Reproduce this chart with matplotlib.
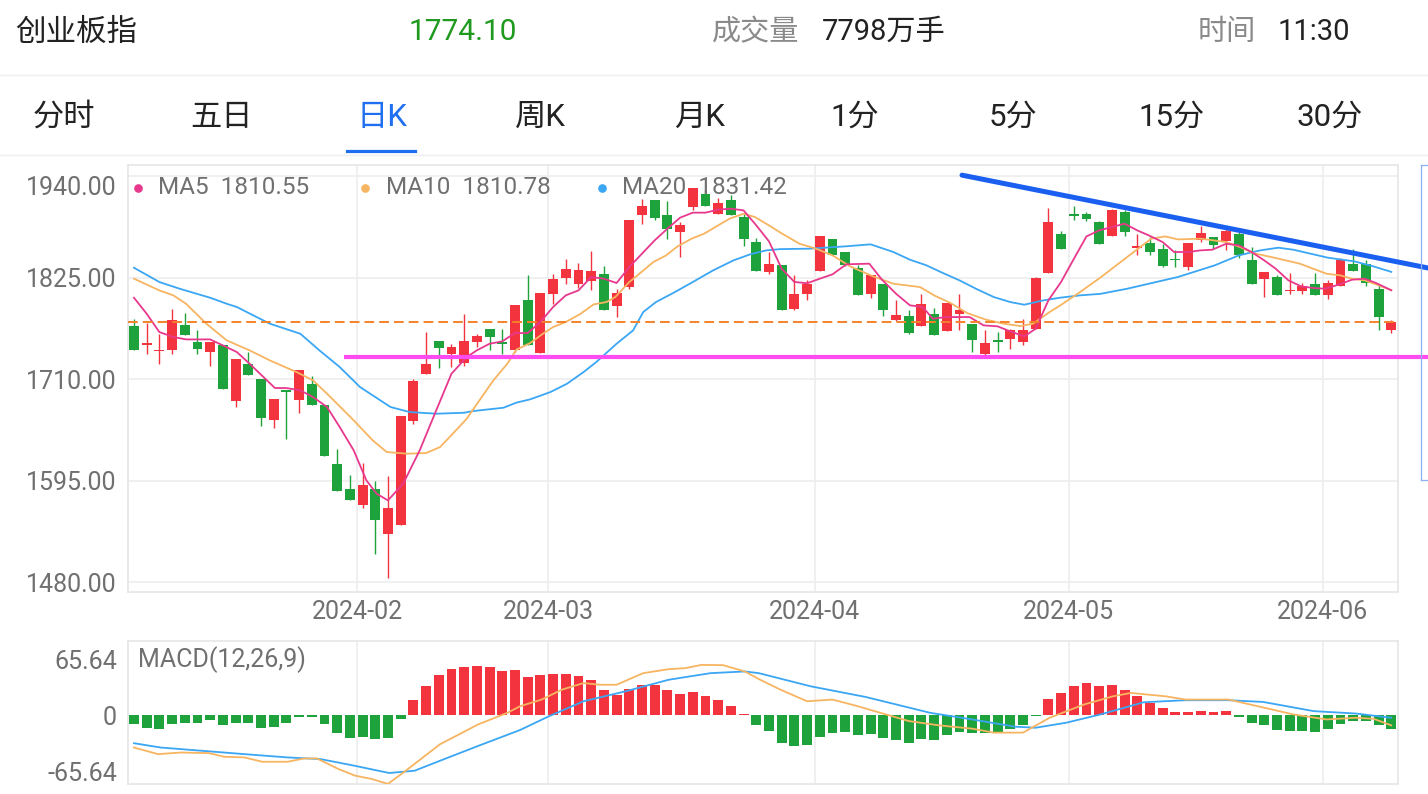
import numpy as np
import pandas as pd
import matplotlib
matplotlib.use('Agg')
import matplotlib.pyplot as plt
from matplotlib.lines import Line2D

plt.rcParams['font.family'] = ['Roboto', 'Noto Sans CJK SC', 'DejaVu Sans']

# ---------------- data ----------------
holidays = ['2024-02-09', '2024-02-12', '2024-02-13', '2024-02-14', '2024-02-15',
            '2024-02-16', '2024-04-04', '2024-04-05', '2024-05-01', '2024-05-02',
            '2024-05-03', '2024-06-10']
dates = pd.bdate_range('2024-01-08', '2024-06-11', freq='C', holidays=holidays)

opens = [1769.7, 1749.0, 1741.5, 1743.0, 1771.6, 1751.9, 1740.6, 1748.1, 1685.1, 1726.6,
         1710.4, 1663.2, 1697.0, 1685.8, 1704.0, 1680.2, 1613.3, 1585.7, 1567.2, 1585.7,
         1534.0, 1544.6, 1662.4, 1716.0, 1752.7, 1738.7, 1728.2, 1752.0, 1767.0, 1751.5,
         1742.5, 1799.9, 1739.4, 1806.7, 1824.8, 1817.2, 1820.6, 1829.3, 1792.3, 1814.2,
         1895.4, 1912.4, 1896.2, 1876.5, 1904.9, 1920.0, 1897.3, 1912.4, 1893.5, 1865.2,
         1830.8, 1839.5, 1788.9, 1806.7, 1832.4, 1869.0, 1853.5, 1835.8, 1806.7, 1818.0,
         1776.5, 1781.0, 1769.7, 1784.0, 1764.0, 1784.0, 1772.7, 1738.7, 1753.4, 1755.7,
         1751.9, 1767.0, 1830.5, 1874.6, 1896.6, 1897.3, 1887.9, 1871.6, 1899.2, 1858.8,
         1864.1, 1857.7, 1846.3, 1836.9, 1867.1, 1870.9, 1866.0, 1874.6, 1844.4, 1822.9,
         1825.6, 1809.7, 1809.3, 1818.0, 1805.5, 1815.0, 1839.9, 1839.9, 1812.3, 1765.9]
highs = [1778.3, 1774.0, 1761.3, 1789.7, 1784.8, 1765.1, 1751.9, 1748.1, 1733.0, 1740.6,
         1710.4, 1687.7, 1698.0, 1720.6, 1713.0, 1680.2, 1630.3, 1600.8, 1615.2, 1594.4,
         1599.7, 1667.7, 1710.4, 1763.0, 1752.7, 1749.3, 1783.3, 1760.6, 1767.0, 1767.0,
         1794.2, 1828.2, 1807.8, 1829.3, 1845.6, 1841.8, 1855.0, 1837.6, 1812.3, 1890.5,
         1913.6, 1912.4, 1911.7, 1887.9, 1926.4, 1924.5, 1915.4, 1918.8, 1897.3, 1869.7,
         1853.9, 1839.5, 1827.4, 1822.5, 1871.6, 1869.0, 1853.5, 1838.8, 1827.4, 1818.0,
         1799.1, 1787.8, 1806.7, 1790.4, 1796.5, 1806.7, 1772.7, 1765.1, 1763.2, 1767.0,
         1777.6, 1825.6, 1903.7, 1877.7, 1905.6, 1899.2, 1888.6, 1903.0, 1901.1, 1874.6,
         1870.9, 1863.3, 1855.8, 1864.5, 1883.0, 1870.9, 1882.2, 1876.5, 1859.5, 1831.2,
         1827.4, 1830.1, 1818.8, 1830.1, 1821.8, 1847.5, 1857.7, 1844.4, 1816.1, 1776.5]
lows = [1743.2, 1738.7, 1726.6, 1738.7, 1760.2, 1738.7, 1724.7, 1698.3, 1678.3, 1714.1,
        1656.7, 1654.8, 1642.4, 1671.8, 1680.9, 1622.7, 1582.7, 1572.5, 1563.5, 1512.0,
        1484.0, 1544.6, 1658.6, 1716.0, 1722.8, 1723.6, 1724.4, 1746.2, 1742.5, 1738.7,
        1740.6, 1748.1, 1739.4, 1795.3, 1817.2, 1813.0, 1810.4, 1788.5, 1780.2, 1812.3,
        1885.2, 1890.5, 1869.0, 1848.2, 1901.1, 1906.0, 1897.3, 1896.2, 1860.3, 1832.0,
        1829.3, 1788.5, 1787.8, 1799.9, 1832.4, 1850.9, 1838.0, 1805.5, 1801.8, 1781.0,
        1775.4, 1760.6, 1769.7, 1759.5, 1764.0, 1765.1, 1740.6, 1736.8, 1740.6, 1744.3,
        1748.1, 1767.0, 1830.5, 1857.7, 1889.8, 1888.6, 1863.3, 1871.6, 1871.6, 1850.9,
        1850.9, 1836.9, 1836.9, 1833.1, 1865.2, 1857.7, 1855.8, 1847.5, 1817.2, 1802.9,
        1804.8, 1805.9, 1806.7, 1804.8, 1801.0, 1815.0, 1832.4, 1815.0, 1765.1, 1762.1]
closes = [1743.2, 1750.5, 1743.0, 1777.2, 1760.2, 1744.3, 1751.9, 1698.3, 1733.0, 1714.1,
          1665.8, 1687.7, 1696.0, 1720.6, 1680.9, 1622.7, 1582.7, 1572.5, 1589.9, 1549.8,
          1563.5, 1667.7, 1707.3, 1727.4, 1745.5, 1746.3, 1752.7, 1758.7, 1757.6, 1750.8,
          1794.2, 1748.1, 1807.8, 1823.7, 1834.2, 1833.1, 1832.4, 1788.5, 1807.4, 1890.5,
          1906.0, 1892.8, 1880.3, 1884.1, 1926.4, 1906.0, 1909.8, 1896.2, 1868.2, 1832.0,
          1840.7, 1788.5, 1806.7, 1818.0, 1871.6, 1850.9, 1839.5, 1805.5, 1827.4, 1788.5,
          1782.1, 1762.1, 1795.3, 1759.5, 1796.5, 1787.8, 1754.5, 1750.8, 1752.8, 1765.1,
          1765.1, 1824.4, 1887.9, 1857.7, 1894.3, 1891.7, 1863.3, 1901.1, 1876.5, 1860.3,
          1853.9, 1837.6, 1844.8, 1864.5, 1875.4, 1861.4, 1877.3, 1850.9, 1817.2, 1831.2,
          1804.8, 1811.2, 1815.0, 1804.8, 1818.8, 1844.4, 1832.4, 1818.8, 1780.2, 1774.1]

# moving averages as drawn (candle index, value)
ma5_x = [0, 1, 2, 3.1, 4.1, 6, 7, 8.1, 9.1, 10.2, 11.1, 12, 13.1, 14.1, 15.2, 16.2, 17.3,
         18.3, 19.1, 20, 21.2, 22.5, 23.8, 25, 26.2, 27, 28, 29, 30, 31, 32, 33, 34, 35,
         36, 37, 38, 39, 40, 41, 42, 43, 44, 45, 46, 47, 48, 49, 50, 51, 52, 53, 54, 55,
         56.1, 57.9, 58.9, 60, 61.1, 62.1, 62.9, 63.9, 65, 65.8, 66.9, 68, 69, 70.1, 71,
         72, 73, 74, 75, 76, 77, 78, 79, 79.9, 81, 81.9, 83, 84, 84.9, 86, 87, 88, 89,
         89.9, 90.9, 91.9, 92.9, 93.8, 94.9, 95.9, 96.9, 97.8, 99]
ma5_v = [1802.1, 1784.0, 1763.2, 1757.6, 1754.9, 1754.9, 1748.1, 1740.6, 1727.4, 1712.2,
         1699.8, 1699.8, 1697.1, 1689.6, 1678.3, 1655.6, 1629.2, 1595.2, 1580.1, 1572.5,
         1591.5, 1629.2, 1674.5, 1716.0, 1734.9, 1742.5, 1750.0, 1752.7, 1762.1, 1762.1,
         1774.6, 1791.6, 1804.8, 1810.4, 1825.6, 1823.7, 1818.8, 1836.9, 1852.0, 1867.1,
         1880.3, 1892.8, 1898.5, 1898.5, 1901.9, 1903.0, 1901.1, 1884.1, 1866.0, 1835.0,
         1820.0, 1818.5, 1823.7, 1828.6, 1840.0, 1840.7, 1822.5, 1806.7, 1793.5, 1791.6,
         1778.3, 1780.2, 1780.2, 1780.2, 1770.8, 1769.7, 1764.0, 1758.3, 1767.0, 1799.1,
         1820.0, 1846.0, 1871.6, 1878.4, 1882.2, 1886.0, 1878.4, 1872.8, 1865.2, 1853.9,
         1853.9, 1855.8, 1856.5, 1863.3, 1861.4, 1853.9, 1844.4, 1835.0, 1821.8, 1815.0,
         1813.1, 1812.3, 1817.2, 1822.5, 1823.7, 1818.8, 1810.55]
ma10_x = [0, 2, 3.1, 4.1, 5.7, 7.3, 9.1, 10.7, 12.8, 14.1, 15.2, 17.3, 18.8, 19.9, 21.5,
          23, 24.1, 25.1, 26.2, 27.2, 28.3, 29.4, 30.1, 31.2, 32.2, 33, 34, 35.1, 36.2,
          37.2, 37.9, 39, 39.8, 40.9, 41.9, 42.8, 43.9, 44.9, 46, 46.9, 48, 48.9, 50,
          51, 52.4, 53.7, 55, 56.4, 58.2, 59.8, 61.9, 63, 64.3, 65.6, 67.1, 68.5, 69.8,
          70.8, 72.1, 73, 74.5, 76.1, 78.2, 80.1, 81.2, 82.2, 84, 86, 87.1, 88.1, 89.9,
          91.8, 93.9, 95, 95.9, 96.9, 97.8, 99]
ma10_v = [1823.7, 1810.4, 1804.8, 1795.3, 1772.7, 1753.8, 1742.5, 1731.1, 1717.9, 1708.5,
          1693.4, 1663.2, 1640.5, 1627.3, 1625.4, 1626.1, 1632.9, 1648.0, 1665.0, 1685.8,
          1708.5, 1727.4, 1743.2, 1750.8, 1761.3, 1768.9, 1774.6, 1783.3, 1794.6, 1797.2,
          1802.9, 1819.9, 1829.3, 1842.6, 1850.1, 1860.3, 1869.0, 1874.7, 1884.1, 1891.7,
          1897.3, 1893.5, 1884.1, 1875.0, 1863.3, 1857.7, 1850.1, 1837.6, 1826.3, 1818.0,
          1814.2, 1804.8, 1796.1, 1784.8, 1777.2, 1772.7, 1770.0, 1772.7, 1785.9, 1794.0,
          1808.6, 1825.0, 1848.2, 1869.0, 1871.6, 1868.2, 1869.0, 1865.2, 1859.5, 1852.8,
          1847.1, 1840.7, 1829.3, 1827.4, 1823.7, 1821.8, 1817.2, 1810.78]
ma20_x = [0, 2, 3.6, 6, 7.3, 8.1, 9.4, 10.7, 13.1, 14.6, 16.2, 17.8, 20.2, 21.7, 23.8, 26,
          26.7, 29.1, 30.1, 31.2, 32.8, 34.1, 35.4, 36.4, 38, 39.3, 40.1, 41.1, 42.5, 44,
          45.6, 47.2, 48.5, 49.8, 50.9, 53.2, 56, 58, 59.8, 61.1, 62.4, 63.7, 65, 66.3,
          67.7, 69, 70.1, 71.6, 72.9, 74.5, 76.1, 78.2, 82.2, 85.1, 87, 88.7, 90.1, 91.3,
          94, 96.1, 97.6, 99]
ma20_v = [1836.1, 1819.9, 1812.3, 1802.1, 1795.3, 1791.6, 1782.1, 1772.7, 1761.3, 1742.5,
          1723.6, 1700.9, 1678.3, 1672.6, 1670.7, 1671.8, 1673.7, 1677.5, 1683.2, 1687.0,
          1695.3, 1704.7, 1717.9, 1729.2, 1750.0, 1765.1, 1785.9, 1797.2, 1807.8, 1819.9,
          1833.1, 1844.4, 1851.2, 1855.8, 1857.2, 1857.7, 1860.3, 1862.6, 1853.9, 1845.2,
          1838.8, 1830.1, 1821.8, 1812.3, 1802.9, 1797.2, 1794.2, 1799.1, 1802.1, 1804.8,
          1806.5, 1812.3, 1825.6, 1838.8, 1850.1, 1855.8, 1858.8, 1856.5, 1847.5, 1843.3,
          1837.6, 1831.42]

# MACD(12,26,9)
macd_hist = [-10.6, -14.5, -16.4, -10.6, -8.6, -8.6, -5.5, -11.7, -8.6, -8.6,
             -14.5, -13.3, -9.4, -1.6, -1.6, -10.6, -20.3, -27.0, -25.0, -28.1,
             -26.2, -3.9, 18.0, 35.2, 48.1, 54.7, 57.8, 59.0, 57.0, 52.8,
             53.9, 45.3, 47.3, 49.2, 49.2, 46.1, 42.2, 30.5, 24.6, 31.3,
             36.3, 36.3, 30.5, 25.8, 27.4, 22.7, 18.0, 11.7, 2.3, -11.7,
             -18.4, -32.0, -36.0, -35.2, -25.4, -20.3, -19.5, -23.4, -22.3, -27.0,
             -28.9, -32.8, -28.1, -28.9, -23.4, -19.1, -21.1, -21.1, -19.5, -15.6,
             -11.3, -0.8, 19.9, 26.6, 34.4, 38.3, 34.4, 35.6, 30.5, 22.7,
             14.8, 9.0, 3.9, 3.9, 5.1, 3.9, 4.7, -1.6, -9.4, -11.7,
             -17.2, -18.4, -18.4, -19.1, -16.4, -9.8, -6.6, -6.6, -11.7, -15.6]
dif_x = [0, 1.9, 3.7, 5.9, 7.1, 8.7, 10.1, 12.1, 13.4, 14.4, 16.1, 17.4, 18.7, 20, 21.4,
         24.1, 27.1, 29.4, 30.4, 32.1, 33.7, 35.4, 36.7, 38, 40.1, 42.1, 43.4, 44.7, 46.4,
         48.1, 49.2, 50.9, 53, 55, 57, 61, 63.4, 66, 67.7, 70, 72.1, 74.8, 77.1, 78.5,
         81.2, 82.8, 86.2, 87.9, 91.3, 93.9, 96.2, 97.6, 99]
dif_v = [-37.9, -45.7, -43.8, -44.5, -48.8, -49.6, -54.7, -54.7, -50.8, -50.8, -63.3,
         -71.1, -75.0, -80.9, -65.3, -34.0, -10.6, 3.1, 10.9, 18.8, 30.5, 38.3, 36.3,
         36.3, 50.0, 54.7, 55.9, 59.8, 59.4, 52.0, 43.0, 30.5, 16.8, 18.8, 10.9, -6.6,
         -11.7, -15.6, -20.3, -20.3, -2.7, 12.9, 22.7, 26.6, 22.7, 18.8, 18.8, 12.9, 1.2,
         -4.7, -2.7, -3.9, -11.7]
dea_x = [0, 2.1, 5.4, 8.7, 12.1, 14.7, 17.1, 20.1, 22.1, 24.1, 27.1, 30.4, 32.7, 35.4,
         38.7, 42.1, 45.4, 48.1, 49.2, 53.3, 57.6, 62.7, 66, 69.4, 71, 73.4, 76.1, 79.5,
         82.8, 86.2, 88.9, 92.9, 96.2, 99]
dea_v = [-32.8, -37.9, -41.8, -45.7, -49.6, -51.6, -58.6, -68.0, -65.3, -53.5, -36.0,
         -17.2, -0.8, 16.8, 28.5, 42.2, 50.0, 52.0, 50.0, 34.4, 21.9, 3.1, -4.7, -13.3,
         -14.5, -8.6, 1.2, 15.6, 18.0, 18.0, 16.0, 5.1, 2.3, -2.7]

# hand-drawn marks on the chart (candle index / price)
support_level = 1735.0
support_start = 16.5
trend_x = [65.2, 101.9]
trend_y = [1941.0, 1835.8]

price_ticks = [1480, 1595, 1710, 1825, 1940]
macd_ticks = [65.64, 0, -65.64]

# ---------------- styles ----------------
RED = '#f3343e'
GREEN = '#1ea23b'
PINK = '#e8388d'
ORANGE = '#f7b461'
BLUE = '#3aa6f4'
GRID = '#eeeeee'
LABEL = '#707070'

W, H = 1428, 794


def fx(px):
    return px / W


def fy(py):
    return 1 - py / H


def rect(l, t, r, b):
    return [l / W, 1 - b / H, (r - l) / W, (b - t) / H]


fig = plt.figure(figsize=(W / 100, H / 100), dpi=100)

# ---------------- header ----------------
fig.text(fx(15), fy(32), '创业板指', fontsize=22, color='#222222', va='center')
fig.text(fx(409), fy(32), '1774.10', fontsize=21.5, color='#1f9a1f', va='center')
fig.text(fx(712), fy(32), '成交量', fontsize=21, color='#8a8a8a', va='center')
fig.text(fx(822), fy(32), '7798万手', fontsize=21, color='#222222', va='center')
fig.text(fx(1198), fy(32), '时间', fontsize=21, color='#8a8a8a', va='center')
fig.text(fx(1278), fy(32), '11:30', fontsize=21, color='#222222', va='center')
fig.add_artist(Line2D([0, 1], [fy(75), fy(75)], color='#eeeeee', lw=1))

tabs = ['分时', '五日', '日K', '周K', '月K', '1分', '5分', '15分', '30分']
tab_cx = [64, 222, 382, 540, 700, 855, 1013, 1172, 1330]
for t, cx in zip(tabs, tab_cx):
    col = '#1f6ff0' if t == '日K' else '#222222'
    fig.text(fx(cx), fy(117), t, fontsize=22.5, color=col, ha='center', va='center')
fig.add_artist(Line2D([fx(347), fx(415)], [fy(151), fy(151)], color='#1f6ff0', lw=2.3))
fig.add_artist(Line2D([0, 1], [fy(154.5), fy(154.5)], color='#eeeeee', lw=1))

# ---------------- candles ----------------
x = np.arange(len(closes))
o = np.array(opens)
hi = np.array(highs)
lo = np.array(lows)
c = np.array(closes)
colors = np.where(c >= o, RED, GREEN)

month_idx = [i for i in range(1, len(dates)) if dates[i].month != dates[i - 1].month]
month_pos = [i - 0.4 for i in month_idx]
month_lab = [dates[i].strftime('%Y-%m') for i in month_idx]

ax = fig.add_axes(rect(128, 165, 1398, 592))
ax.set_xlim(-0.47, 99.53)
ax.set_ylim(1468.7, 1952.5)

body = np.abs(c - o)
body_h = np.maximum(body, 1.8)
body_b = np.minimum(o, c) - (body_h - body) / 2
ax.vlines(x, lo, hi, colors=colors, lw=1.0, zorder=2)
ax.bar(x, body_h, bottom=body_b, width=0.78, color=colors, lw=0, zorder=3)

ax.plot(ma20_x, ma20_v, color=BLUE, lw=1.3, zorder=4)
ax.plot(ma10_x, ma10_v, color=ORANGE, lw=1.3, zorder=4)
ax.plot(ma5_x, ma5_v, color=PINK, lw=1.3, zorder=4)

ax.axhline(closes[-1], color='#f5822a', lw=1.4, ls=(0, (5, 2.6)), zorder=5)
ax.plot([support_start, trend_x[1]], [support_level, support_level], color='#ff4cf2',
        lw=3.0, solid_capstyle='butt', clip_on=False, zorder=6)
ax.plot(trend_x, trend_y, color='#1b5ff0', lw=3.6, solid_capstyle='round',
        clip_on=False, zorder=6)

ax.set_yticks(price_ticks)
ax.set_yticklabels(['%.2f' % v for v in price_ticks])
ax.set_xticks(month_pos)
ax.set_xticklabels(month_lab)
ax.tick_params(length=0, labelsize=18, labelcolor=LABEL)
ax.tick_params(axis='y', pad=8)
ax.tick_params(axis='x', pad=6)
ax.get_yticklabels()[-1].set_va('top')
ax.grid(True, color=GRID, lw=1.2)
ax.set_axisbelow(True)
for s in ax.spines.values():
    s.set_color('#e6e6e6')
    s.set_linewidth(1.2)

# legend row
leg = [('MA5', ma5_v[-1], PINK, 137.5, 157.5),
       ('MA10', ma10_v[-1], ORANGE, 365, 386),
       ('MA20', ma20_v[-1], BLUE, 601.5, 622)]
for name, val, col, dot_x, txt_x in leg:
    fig.add_artist(Line2D([fx(dot_x)], [fy(188)], marker='o', markersize=5.2,
                          color=col, lw=0))
    fig.text(fx(txt_x), fy(188), '%s  %.2f' % (name, val), fontsize=17.5,
             color=LABEL, va='center')

# ---------------- MACD ----------------
mx = fig.add_axes(rect(128, 641, 1398, 784))
mx.set_xlim(-0.47, 99.53)
mx.set_ylim(-81, 88)
h = np.array(macd_hist)
mx.bar(x, h, width=0.78, color=np.where(h >= 0, RED, GREEN), lw=0, zorder=2)
mx.plot(dea_x, dea_v, color=BLUE, lw=1.3, zorder=3)
mx.plot(dif_x, dif_v, color=ORANGE, lw=1.3, zorder=3)
mx.set_xticks(month_pos)
mx.set_xticklabels([])
mx.set_yticks(macd_ticks)
mx.set_yticklabels(['65.64', '0', '-65.64'])
mx.tick_params(length=0, labelsize=18, labelcolor=LABEL, pad=8)
mx.grid(True, axis='x', color=GRID, lw=1.2)
mx.set_axisbelow(True)
for s in mx.spines.values():
    s.set_color('#e6e6e6')
    s.set_linewidth(1.2)
fig.text(fx(138), fy(660), 'MACD(12,26,9)', fontsize=18, color=LABEL, va='center')

# partial panel frame at the right edge
frame = '#8fb0f0'
fig.add_artist(Line2D([fx(1420.5), fx(1420.5)], [fy(165), fy(480)], color=frame, lw=0.9))
fig.add_artist(Line2D([fx(1420.5), 1], [fy(165), fy(165)], color=frame, lw=0.9))
fig.add_artist(Line2D([fx(1420.5), 1], [fy(480), fy(480)], color=frame, lw=0.9))

fig.savefig('out.png', dpi=100, facecolor='white')
